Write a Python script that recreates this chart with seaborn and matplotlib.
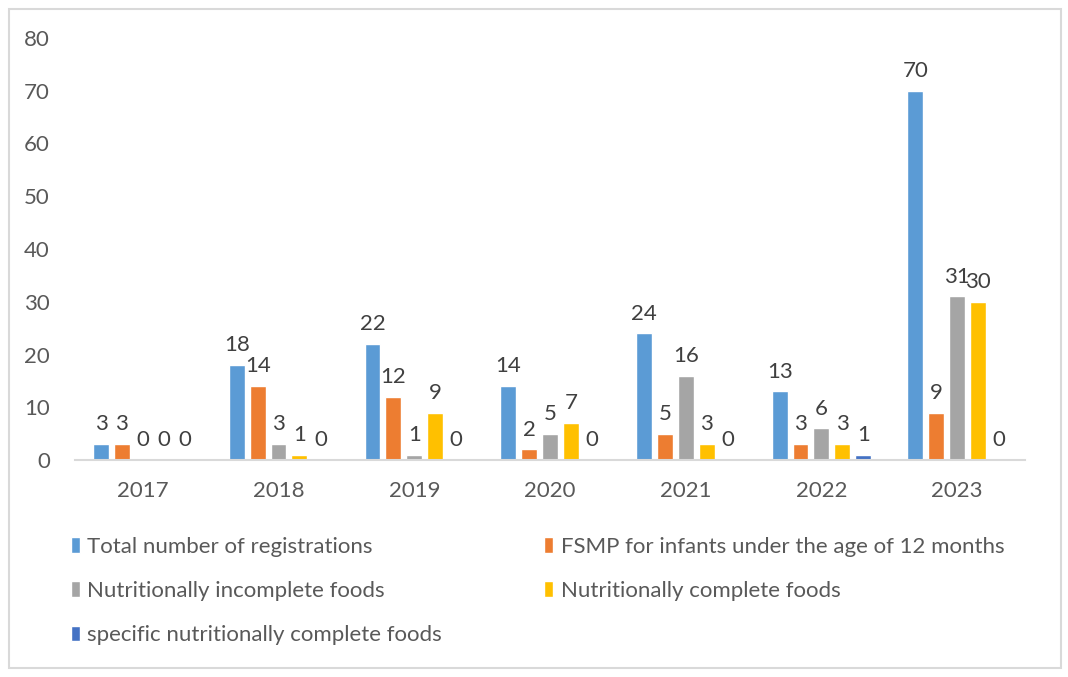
import numpy as np
import pandas as pd
import matplotlib
matplotlib.use("Agg")
import matplotlib.pyplot as plt
from matplotlib.patches import Rectangle
import seaborn as sns

# data
years = ["2017", "2018", "2019", "2020", "2021", "2022", "2023"]
total_reg = [3, 18, 22, 14, 24, 13, 70]
fsmp_infants = [3, 14, 12, 2, 5, 3, 9]
incomplete = [0, 3, 1, 5, 16, 6, 31]
complete = [0, 1, 9, 7, 3, 3, 30]
specific = [0, 0, 0, 0, 0, 1, 0]

series_names = ["Total number of registrations",
                "FSMP for infants under the age of 12 months",
                "Nutritionally incomplete foods",
                "Nutritionally complete foods",
                "specific nutritionally complete foods"]
pallet = ["#5B9BD5", "#ED7D31", "#A5A5A5", "#FFC000", "#4472C4"]

df = pd.DataFrame({"year": years, series_names[0]: total_reg, series_names[1]: fsmp_infants,
                   series_names[2]: incomplete, series_names[3]: complete, series_names[4]: specific})
long_df = df.melt(id_vars="year", var_name="series", value_name="count")

sns.set_theme(style="white")
plt.rcParams['font.family'] = ['Lato', 'DejaVu Sans']
txt_color = "#595959"

fig = plt.figure(figsize=(10.68, 6.77), dpi=100)
ax = fig.add_axes([0.0702, 0.3205, 0.8895, 0.6234])

sns.barplot(data=long_df, x="year", y="count", hue="series", hue_order=series_names,
            palette=pallet, width=0.77, gap=0.24, saturation=1, ax=ax)

for cont in ax.containers:
    ax.bar_label(cont, padding=7, fontsize=16, color="#404040")

ax.set_ylim(0, 80)
ax.set_yticks(np.arange(0, 81, 10))
ax.set_xlim(-0.5, len(years) - 0.5)
ax.set_xlabel("")
ax.set_ylabel("")
ax.tick_params(axis="both", labelsize=16, colors=txt_color, length=0)
ax.tick_params(axis="y", pad=18)
ax.tick_params(axis="x", pad=15)
for s in ["top", "right", "left"]:
    ax.spines[s].set_visible(False)
ax.spines["bottom"].set_color("#d9d9d9")
ax.spines["bottom"].set_linewidth(1.5)

handles, labels = ax.get_legend_handles_labels()
ax.get_legend().remove()
order = [0, 2, 4, 1, 3]
leg = fig.legend([handles[i] for i in order], [labels[i] for i in order], ncol=2,
                 loc="upper left", bbox_to_anchor=(0.0475, 0.237), frameon=False,
                 fontsize=16, handlelength=0.4, handleheight=0.7, handletextpad=0.35,
                 labelspacing=1.1, columnspacing=4.6)
for t in leg.get_texts():
    t.set_color(txt_color)

fig.patches.append(Rectangle((9 / 1068, 9 / 677), 1052 / 1068, 659 / 677, transform=fig.transFigure,
                             fill=False, edgecolor="#d9d9d9", linewidth=1.5))

fig.savefig("out.png", dpi=100)
